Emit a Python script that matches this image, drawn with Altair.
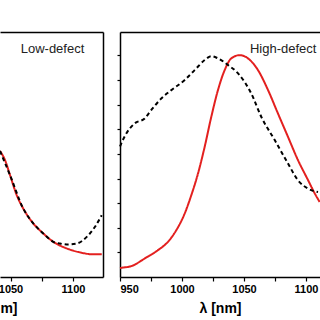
import altair as alt
import pandas as pd

# Low-defect panel: wavelength (nm) and normalised intensity
low_red_nm = [1041.6, 1045.6, 1049.6, 1055.0, 1060.2, 1068.2, 1076.2, 1084.2, 1095.0, 1105.6, 1116.2, 1123.0]
low_red_val = [0.612, 0.575, 0.514, 0.432, 0.378, 0.318, 0.277, 0.243, 0.216, 0.200, 0.192, 0.192]
low_blk_nm = [1041.6, 1049.6, 1060.2, 1068.2, 1076.2, 1084.2, 1089.6, 1095.0, 1103.0, 1111.0, 1117.6, 1123.0]
low_blk_val = [0.612, 0.514, 0.378, 0.318, 0.277, 0.243, 0.236, 0.232, 0.236, 0.263, 0.304, 0.351]

# High-defect panel
high_red_nm = [950.0, 951.0, 959.1, 969.9, 980.6, 988.7, 995.4, 1002.2, 1007.5, 1012.9, 1018.3, 1023.6,
               1029.0, 1034.4, 1039.8, 1046.5, 1053.2, 1061.3, 1069.4, 1077.4, 1085.5, 1093.5, 1101.6,
               1107.0, 1111.0]
high_red_val = [0.136, 0.137, 0.144, 0.175, 0.209, 0.243, 0.290, 0.358, 0.432, 0.520, 0.629, 0.750,
                0.859, 0.940, 0.988, 1.001, 0.988, 0.940, 0.859, 0.764, 0.669, 0.575, 0.494,
                0.440, 0.405]
high_blk_nm = [950.0, 951.0, 955.1, 961.9, 969.9, 975.2, 983.3, 991.4, 1002.2, 1010.2, 1018.3, 1023.6,
               1029.0, 1037.1, 1045.2, 1055.9, 1064.0, 1074.8, 1085.5, 1093.5, 1101.6, 1109.7]
high_blk_val = [0.630, 0.642, 0.683, 0.724, 0.744, 0.778, 0.825, 0.859, 0.900, 0.940, 0.981, 0.997,
                0.988, 0.961, 0.927, 0.845, 0.750, 0.656, 0.561, 0.493, 0.459, 0.445]

panel_labels = ["Low-defect", "High-defect"]
label_nm = [1083.6, 1054.8]
label_val = [1.026, 1.026]

FONT = "Liberation Sans"
RED = "#e3201f"


def series_frame(nm, val, name):
    return pd.DataFrame({"nm": nm, "val": val, "series": name})


low_df = pd.concat([series_frame(low_red_nm, low_red_val, "red"),
                    series_frame(low_blk_nm, low_blk_val, "black")])
high_df = pd.concat([series_frame(high_red_nm, high_red_val, "red"),
                     series_frame(high_blk_nm, high_blk_val, "black")])

x_low = alt.Scale(domain=[1041.6, 1124.0], range=[0, 103], nice=False, zero=False)
x_high = alt.Scale(domain=[950.0, 1111.3], range=[120, 320], nice=False, zero=False)
y_scale = alt.Scale(domain=[0.1, 1.095], nice=False, zero=False)

color = alt.Color("series:N", scale=alt.Scale(domain=["red", "black"], range=[RED, "#000000"]), legend=None)
dash = alt.StrokeDash("series:N", scale=alt.Scale(domain=["red", "black"], range=[[1, 0], [4, 3]]), legend=None)

label_expr = "datum.value % 50 === 0 ? datum.label : ''"
frame_only = dict(domain=True, ticks=False, labels=False, grid=False, title=None)

low_lines = alt.Chart(low_df).mark_line(strokeWidth=2, interpolate="monotone").encode(
    x=alt.X("nm:Q", scale=x_low, axis=alt.Axis(
        orient="bottom", values=[1050, 1075, 1100], format="d", labelExpr=label_expr, grid=False,
        title="λ [nm]", titleX=17, titleY=35, titleAlign="right", titleBaseline="alphabetic")),
    y=alt.Y("val:Q", scale=y_scale, axis=alt.Axis(orient="right", offset=-217, **frame_only)),
    color=color,
    strokeDash=dash,
)

high_lines = alt.Chart(high_df).mark_line(strokeWidth=2, interpolate="monotone").encode(
    x=alt.X("nm:Q", scale=x_high, axis=alt.Axis(
        orient="bottom", values=[950, 975, 1000, 1025, 1050, 1075, 1100], format="d", grid=False,
        labelExpr=label_expr, title="λ [nm]", titleX=220, titleY=35, titleAlign="center",
        titleBaseline="alphabetic")),
    y=alt.Y("val:Q", scale=y_scale, axis=alt.Axis(
        orient="left", offset=-120, values=[0.2, 0.3, 0.4, 0.5, 0.6, 0.7, 0.8, 0.9, 1.0],
        labels=False, grid=False, title=None, tickSize=3)),
    color=color,
    strokeDash=dash,
)

low_text = alt.Chart(pd.DataFrame({"nm": [label_nm[0]], "val": [label_val[0]], "txt": [panel_labels[0]]})).mark_text(
    align="center", baseline="middle", font=FONT, fontSize=13, color="#222222"
).encode(
    x=alt.X("nm:Q", scale=x_low, axis=alt.Axis(orient="top", **frame_only)),
    y=alt.Y("val:Q", scale=y_scale, axis=None),
    text="txt:N",
)

high_text = alt.Chart(pd.DataFrame({"nm": [label_nm[1]], "val": [label_val[1]], "txt": [panel_labels[1]]})).mark_text(
    align="left", baseline="middle", font=FONT, fontSize=13, color="#222222"
).encode(
    x=alt.X("nm:Q", scale=x_high, axis=alt.Axis(orient="top", **frame_only)),
    y=alt.Y("val:Q", scale=y_scale, axis=None),
    text="txt:N",
)

chart = alt.layer(low_lines, high_lines, low_text, high_text).resolve_scale(
    x="independent", y="independent"
).resolve_axis(
    x="independent", y="independent"
).properties(
    width=320, height=245,
    autosize=alt.AutoSizeParams(type="none"),
    padding={"top": 32, "left": 0, "right": 0, "bottom": 43},
    background="white",
).configure_view(
    stroke=None
).configure_axis(
    grid=False,
    domainColor="#000000", domainWidth=1.5, tickColor="#000000", tickWidth=1.2, tickSize=4,
    labelFont=FONT, labelFontSize=11, labelFontWeight="bold", labelColor="#000000", labelPadding=2,
    titleFont=FONT, titleFontSize=14, titleFontWeight="bold", titleColor="#000000",
)

chart.save("out.html", embed_options={"renderer": "svg", "actions": False})
